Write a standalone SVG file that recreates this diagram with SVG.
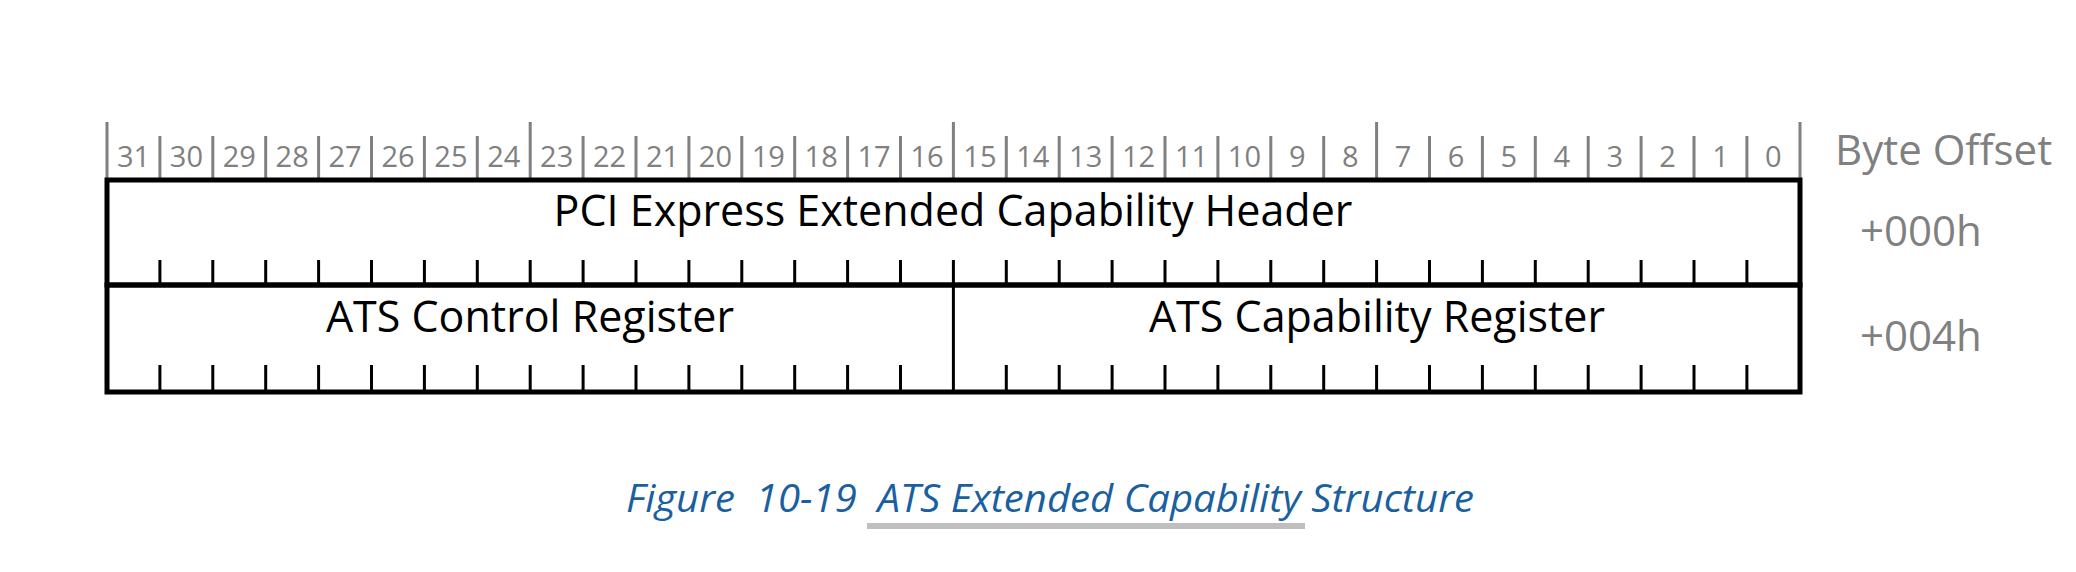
<svg xmlns="http://www.w3.org/2000/svg" width="2076" height="572" viewBox="0 0 2076 572">
<style>
.n{font-family:"Open Sans","Liberation Sans",sans-serif;font-size:29px;fill:#808080;text-anchor:middle}
.g{stroke:#808080;stroke-width:3}
.k{stroke:#000;stroke-width:3}
.b{fill:none;stroke:#000;stroke-width:5}
.t{font-family:"Open Sans","Liberation Sans",sans-serif;font-size:43px;fill:#000;text-anchor:middle}
.o{font-family:"Open Sans","Liberation Sans",sans-serif;font-size:42px;fill:#808080}
</style>
<rect width="2076" height="572" fill="#fff"/>
<g id="bitscale">
<path class="g" d="M107 122V180M530.2 122V180M953.4 122V180M1376.6 122V180M1800 122V180"/>
<path class="g" d="M159.9 136V180M212.8 136V180M265.7 136V180M318.6 136V180M371.5 136V180M424.4 136V180M477.3 136V180M583.1 136V180M636 136V180M688.9 136V180M741.8 136V180M794.7 136V180M847.6 136V180M900.5 136V180M1006.3 136V180M1059.2 136V180M1112.1 136V180M1165 136V180M1217.9 136V180M1270.8 136V180M1323.7 136V180M1429.5 136V180M1482.4 136V180M1535.3 136V180M1588.2 136V180M1641.1 136V180M1694 136V180M1746.9 136V180"/>
<g class="n">
<text x="133.5" y="167">31</text><text x="186.4" y="167">30</text><text x="239.3" y="167">29</text><text x="292.2" y="167">28</text><text x="345.1" y="167">27</text><text x="398" y="167">26</text><text x="450.9" y="167">25</text><text x="503.8" y="167">24</text>
<text x="556.7" y="167">23</text><text x="609.6" y="167">22</text><text x="662.5" y="167">21</text><text x="715.4" y="167">20</text><text x="768.3" y="167">19</text><text x="821.2" y="167">18</text><text x="874.1" y="167">17</text><text x="927" y="167">16</text>
<text x="979.9" y="167">15</text><text x="1032.8" y="167">14</text><text x="1085.7" y="167">13</text><text x="1138.6" y="167">12</text><text x="1191.5" y="167">11</text><text x="1244.4" y="167">10</text><text x="1297.3" y="167">9</text><text x="1350.2" y="167">8</text>
<text x="1403.1" y="167">7</text><text x="1456" y="167">6</text><text x="1508.9" y="167">5</text><text x="1561.8" y="167">4</text><text x="1614.7" y="167">3</text><text x="1667.6" y="167">2</text><text x="1720.5" y="167">1</text><text x="1773.4" y="167">0</text>
</g>
</g>
<g id="row0">
<rect class="b" x="107" y="180" width="1693" height="105"/>
<path class="k" d="M159.9 260V285M212.8 260V285M265.7 260V285M318.6 260V285M371.5 260V285M424.4 260V285M477.3 260V285M530.2 260V285M583.1 260V285M636 260V285M688.9 260V285M741.8 260V285M794.7 260V285M847.6 260V285M900.5 260V285M953.4 260V285M1006.3 260V285M1059.2 260V285M1112.1 260V285M1165 260V285M1217.9 260V285M1270.8 260V285M1323.7 260V285M1376.6 260V285M1429.5 260V285M1482.4 260V285M1535.3 260V285M1588.2 260V285M1641.1 260V285M1694 260V285M1746.9 260V285"/>
<text class="t" x="953" y="226">PCI Express Extended Capability Header</text>
</g>
<g id="row1">
<rect class="b" x="107" y="285" width="1693" height="107"/>
<path class="k" d="M953.4 285V392" stroke-width="4"/>
<path class="k" d="M159.9 365V392M212.8 365V392M265.7 365V392M318.6 365V392M371.5 365V392M424.4 365V392M477.3 365V392M530.2 365V392M583.1 365V392M636 365V392M688.9 365V392M741.8 365V392M794.7 365V392M847.6 365V392M900.5 365V392M1006.3 365V392M1059.2 365V392M1112.1 365V392M1165 365V392M1217.9 365V392M1270.8 365V392M1323.7 365V392M1376.6 365V392M1429.5 365V392M1482.4 365V392M1535.3 365V392M1588.2 365V392M1641.1 365V392M1694 365V392M1746.9 365V392"/>
<text class="t" x="530" y="332">ATS Control Register</text>
<text class="t" x="1377" y="332">ATS Capability Register</text>
</g>
<g id="offsets">
<text class="o" x="1835" y="165">Byte Offset</text>
<text class="o" x="1860" y="246">+000h</text>
<text class="o" x="1860" y="351">+004h</text>
</g>
<g id="caption">
<text x="626" y="512" xml:space="preserve" textLength="848" lengthAdjust="spacingAndGlyphs" font-family="'Open Sans','Liberation Sans',sans-serif" font-size="38" font-style="italic" fill="#1a5fa0">Figure  10-19  ATS Extended Capability Structure</text>
<rect x="867" y="523" width="438" height="6" fill="#bfbfbf"/>
</g>
</svg>
